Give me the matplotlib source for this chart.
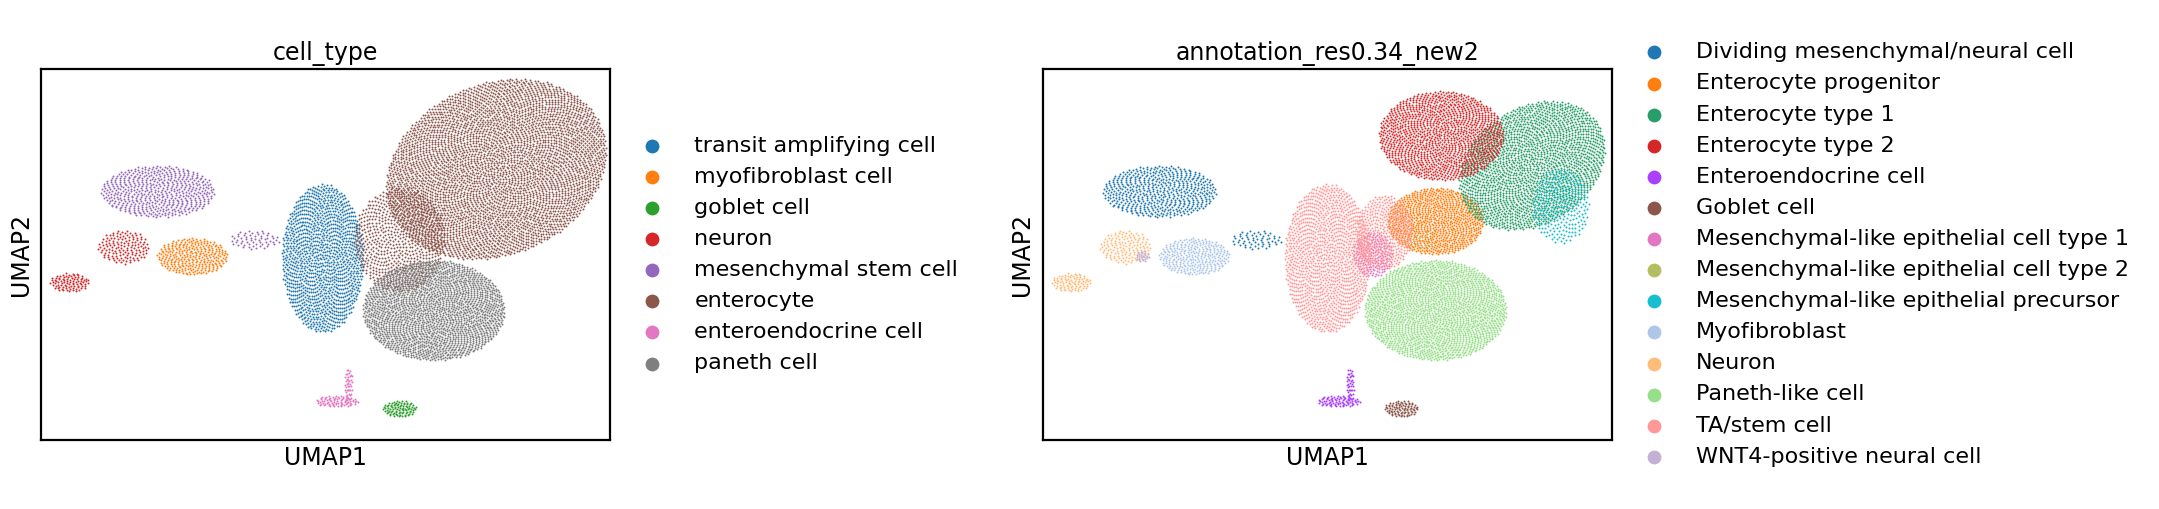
import numpy as np
import matplotlib
matplotlib.use("Agg")
import matplotlib.pyplot as plt

# ---- data: cluster blobs (center u, v, radius ru, rv, point count, rotation deg)
left_cats = ["transit amplifying cell", "myofibroblast cell", "goblet cell", "neuron",
             "mesenchymal stem cell", "enterocyte", "enteroendocrine cell", "paneth cell"]
left_colors = ["#1f77b4", "#ff7f0e", "#2ca02c", "#d62728", "#9467bd", "#8c564b", "#e377c2", "#7f7f7f"]
left_blobs = {
    "transit amplifying cell": [(4.95, 4.9, 0.72, 2.0, 1300, 0)],
    "myofibroblast cell": [(2.66, 4.95, 0.62, 0.5, 300, 0)],
    "goblet cell": [(6.3, 0.85, 0.3, 0.22, 90, 0)],
    "neuron": [(0.5, 4.25, 0.35, 0.25, 90, 0), (1.45, 5.2, 0.45, 0.45, 140, 0)],
    "mesenchymal stem cell": [(2.05, 6.7, 1.0, 0.7, 550, 0), (3.75, 5.4, 0.45, 0.25, 60, 0)],
    "enterocyte": [(8.0, 7.3, 1.85, 2.5, 4200, -20), (6.3, 5.4, 0.8, 1.4, 700, 0)],
    "enteroendocrine cell": [(5.2, 1.05, 0.38, 0.15, 80, 0), (5.4, 1.5, 0.07, 0.45, 40, 0)],
    "paneth cell": [(6.9, 3.5, 1.25, 1.35, 2000, 0)],
}

right_cats = ["Dividing mesenchymal/neural cell", "Enterocyte progenitor", "Enterocyte type 1",
              "Enterocyte type 2", "Enteroendocrine cell", "Goblet cell",
              "Mesenchymal-like epithelial cell type 1", "Mesenchymal-like epithelial cell type 2",
              "Mesenchymal-like epithelial precursor", "Myofibroblast", "Neuron", "Paneth-like cell",
              "TA/stem cell", "WNT4-positive neural cell"]
right_colors = ["#1f77b4", "#ff7f0e", "#279e68", "#d62728", "#aa40fc", "#8c564b", "#e377c2",
                "#b5bd61", "#17becf", "#aec7e8", "#ffbb78", "#98df8a", "#ff9896", "#c5b0d5"]
right_blobs = {
    "Dividing mesenchymal/neural cell": [(2.05, 6.7, 1.0, 0.7, 550, 0), (3.75, 5.4, 0.45, 0.25, 60, 0)],
    "Enterocyte progenitor": [(6.9, 5.9, 0.85, 0.9, 900, 0)],
    "Enterocyte type 1": [(8.6, 7.4, 1.2, 1.8, 2000, -20)],
    "Enterocyte type 2": [(7.0, 8.2, 1.1, 1.2, 1300, 0)],
    "Enteroendocrine cell": [(5.2, 1.05, 0.38, 0.15, 80, 0), (5.4, 1.5, 0.07, 0.45, 40, 0)],
    "Goblet cell": [(6.3, 0.85, 0.3, 0.22, 90, 0)],
    "Mesenchymal-like epithelial cell type 1": [(5.8, 5.0, 0.35, 0.6, 200, 0)],
    "Mesenchymal-like epithelial cell type 2": [(6.6, 5.4, 0.3, 0.3, 20, 0)],
    "Mesenchymal-like epithelial precursor": [(9.1, 6.3, 0.5, 1.0, 250, 0)],
    "Myofibroblast": [(2.66, 4.95, 0.62, 0.5, 300, 0)],
    "Neuron": [(0.5, 4.25, 0.35, 0.25, 90, 0), (1.45, 5.2, 0.45, 0.45, 140, 0)],
    "Paneth-like cell": [(6.9, 3.5, 1.25, 1.35, 2000, 0)],
    "TA/stem cell": [(5.0, 4.9, 0.75, 2.0, 1300, 0), (6.0, 5.6, 0.5, 1.0, 400, 0)],
    "WNT4-positive neural cell": [(1.75, 4.95, 0.12, 0.15, 25, 0)],
}


def blob_points(u, v, ru, rv, n, ang):
    k = np.arange(n) + 0.5
    r = np.sqrt(k / n)
    t = k * np.pi * (3 - np.sqrt(5))
    x, y = r * np.cos(t) * ru, r * np.sin(t) * rv
    a = np.deg2rad(ang)
    return u + x * np.cos(a) - y * np.sin(a), v + x * np.sin(a) + y * np.cos(a)


fig = plt.figure(figsize=(21.59, 5.09), dpi=100)
panels = [(0.019, left_cats, left_colors, left_blobs, "cell_type"),
          (0.483, right_cats, right_colors, right_blobs, "annotation_res0.34_new2")]
for x0, cats, cols, blobs, title in panels:
    ax = fig.add_axes([x0, 0.135, 0.2635, 0.73])
    for c, col in zip(cats, cols):
        xs, ys = [], []
        for b in blobs[c]:
            px, py = blob_points(*b)
            xs.append(px); ys.append(py)
        ax.scatter(np.concatenate(xs), np.concatenate(ys), s=2, c=col, lw=0, rasterized=True)
        ax.scatter([], [], s=80, c=col, label=c)
    ax.set_xlim(0, 10); ax.set_ylim(0, 10)
    ax.set_xticks([]); ax.set_yticks([])
    for sp in ax.spines.values():
        sp.set_linewidth(1.6)
    ax.set_title(title, fontsize=17)
    ax.set_xlabel("UMAP1", fontsize=17, labelpad=4)
    ax.set_ylabel("UMAP2", fontsize=17, labelpad=6)
    ax.legend(loc="center left", bbox_to_anchor=(1.0, 0.5), frameon=False, fontsize=16,
              handletextpad=0.9, labelspacing=0.5)

fig.savefig("out.png", dpi=100)
